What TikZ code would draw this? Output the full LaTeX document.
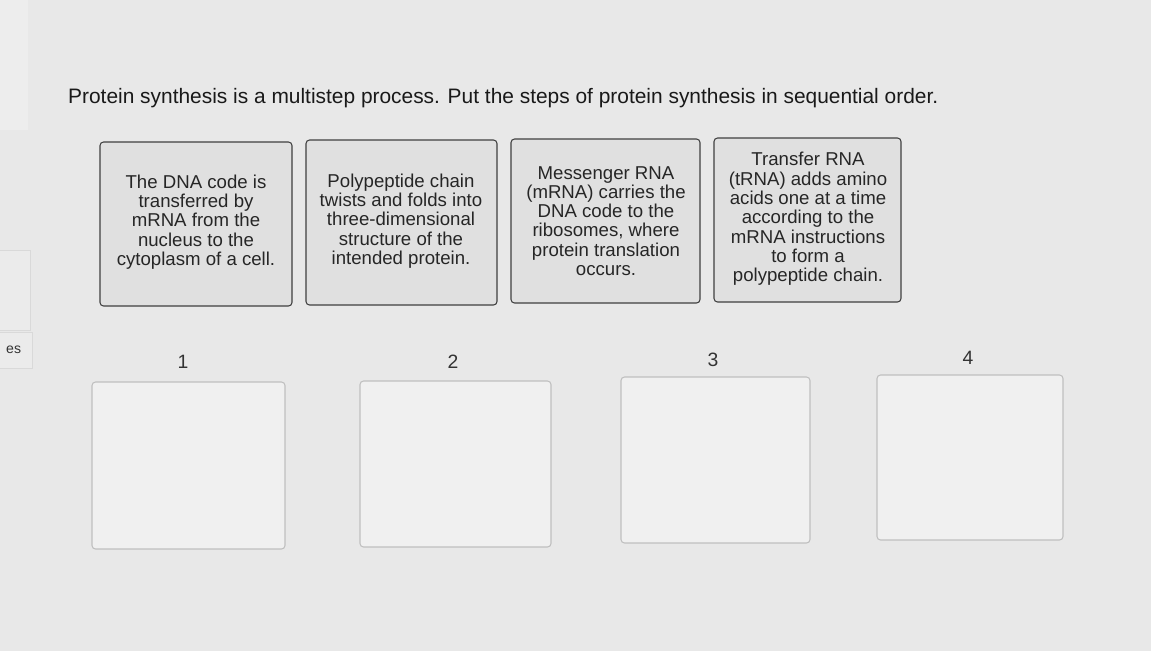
\documentclass[tikz,border=0pt]{standalone}
\usepackage{fontspec}
\setmainfont{Liberation Sans}
\begin{document}
\begin{tikzpicture}[x=0.02cm,y=-0.02cm,
  card/.style={draw=black!75,fill=black!12,rounded corners=2pt,line width=0.6pt},
  slot/.style={draw=black!25,fill=black!6,rounded corners=2pt,line width=0.6pt},
  ctext/.style={align=center,font=\fontsize{10.6}{11}\selectfont,text=black!85},
  num/.style={font=\fontsize{11}{12}\selectfont,text=black!80}]
\useasboundingbox (0,0) rectangle (1151,650);
\fill[black!9] (-5,-5) rectangle (1156,655);
\fill[black!7] (-5,-5) rectangle (28,130);
\draw[black!15,fill=black!8] (-5,250) rectangle (30,330);
\draw[black!15,fill=black!8] (-5,332) rectangle (32,368);
\node[anchor=west,font=\fontsize{8}{9}\selectfont,text=black!80] (es) at (0,350) {es};
\node[anchor=west,font=\fontsize{11.9}{13}\selectfont,text=black!90] (title) at (62,98) {Protein synthesis is a multistep process. Put the steps of protein synthesis in sequential order.};
\draw[card] (100,142) rectangle (292,306);
\draw[card] (306,140) rectangle (497,305);
\draw[card] (511,139) rectangle (700,303);
\draw[card] (714,138) rectangle (901,302);
\node[ctext] (c1) at (196,222) {The DNA code is\\transferred by\\mRNA from the\\nucleus to the\\cytoplasm of a cell.};
\node[ctext] (c2) at (401,221) {Polypeptide chain\\twists and folds into\\three-dimensional\\structure of the\\intended protein.};
\node[ctext] (c3) at (606,221) {Messenger RNA\\(mRNA) carries the\\DNA code to the\\ribosomes, where\\protein translation\\occurs.};
\node[ctext] (c4) at (808,219) {Transfer RNA\\(tRNA) adds amino\\acids one at a time\\according to the\\mRNA instructions\\to form a\\polypeptide chain.};
\node[num] (n1) at (183,362) {1};
\node[num] (n2) at (453,362) {2};
\node[num] (n3) at (713,360) {3};
\node[num] (n4) at (968,358) {4};
\draw[slot] (92,382) rectangle (285,549);
\draw[slot] (360,381) rectangle (551,547);
\draw[slot] (621,377) rectangle (810,543);
\draw[slot] (877,375) rectangle (1063,540);
\end{tikzpicture}
\end{document}
